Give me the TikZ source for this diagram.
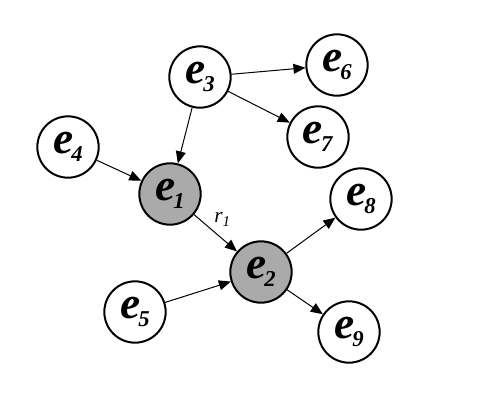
\documentclass[tikz,border=0pt]{standalone}
\usepackage{fontspec}
\setmainfont{Liberation Serif}
\usetikzlibrary{arrows.meta}
\definecolor{hubgray}{RGB}{170,170,170}
\newcommand{\ent}[1]{\textbf{\textit{e}}\kern-1.5pt\raisebox{-6pt}{\fontsize{17}{17}\selectfont\textbf{\textit{#1}}}}
\tikzset{ed/.style={inner sep=1pt,font=\fontsize{16}{16}\selectfont}}
\tikzset{>={Triangle[length=9pt,width=7.5pt]}}
\tikzset{vert/.style={draw,circle,line width=1.5pt,minimum size=46pt,inner sep=0pt,fill=white,font=\fontsize{34}{34}\selectfont}}
\tikzset{hub/.style={vert,fill=hubgray}}

\begin{document}
\begin{tikzpicture}[x=0.75pt,y=-0.75pt,line width=0.75pt]
\useasboundingbox (0,0) rectangle (480,408);

%%% Centre:
\node[hub] (e1) at (170,194) {\ent{1}};
\node[hub] (e2) at (261,272) {\ent{2}};

%%% Around:
\node[vert] (e3) at (200,77) {\ent{3}};
\node[vert] (e4) at (68,147) {\ent{4}};
\node[vert] (e5) at (135,312) {\ent{5}};
\node[vert] (e6) at (337,65) {\ent{6}};
\node[vert] (e7) at (318,137) {\ent{7}};
\node[vert] (e8) at (361,199) {\ent{8}};
\node[vert] (e9) at (349,332) {\ent{9}};

\draw[->] (e3) -- (e1);
\draw[->] (e3) -- (e6);
\draw[->] (e3) -- (e7);
\draw[->] (e4) -- (e1);
\draw[->] (e1) -- node[ed,above right=1pt,pos=0.4] {\textit{r}\textsubscript{\textit{1}}} (e2);
\draw[->] (e5) -- (e2);
\draw[->] (e2) -- (e8);
\draw[->] (e2) -- (e9);
\end{tikzpicture}
\end{document}
